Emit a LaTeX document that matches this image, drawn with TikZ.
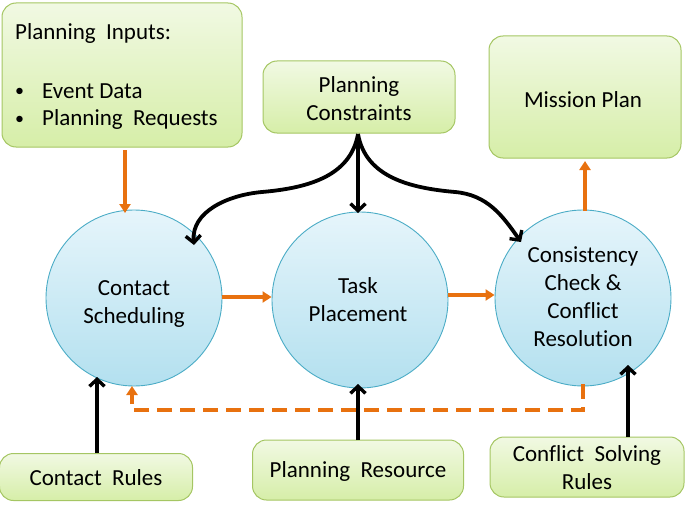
\documentclass[tikz,border=0pt]{standalone}
\usepackage{fontspec}
\setmainfont{Carlito}[Ligatures=NoCommon]
\usetikzlibrary{arrows.meta}
\definecolor{boxtop}{HTML}{F1F9E3}
\definecolor{boxbot}{HTML}{D6EEA8}
\definecolor{boxline}{HTML}{A5C663}
\definecolor{circtop}{HTML}{E6F5FB}
\definecolor{circbot}{HTML}{B3E0EF}
\definecolor{circline}{HTML}{4BACC6}
\definecolor{orng}{HTML}{E8710F}
\tikzset{
  gbox/.style={draw=boxline, line width=1pt, rounded corners=14pt, top color=boxtop, bottom color=boxbot, inner sep=0pt},
  bcirc/.style={circle, draw=circline, line width=0.9pt, top color=circtop, bottom color=circbot, minimum size=176pt, inner sep=0pt},
  txt/.style={font=\fontsize{23}{28}\selectfont, align=center, inner sep=0pt},
  oarr/.style={draw=orng, line width=3.8pt, -{Triangle[length=9pt,width=11pt]}},
  barr/.style={draw=black, line width=3.8pt, -{Straight Barb[length=7pt,width=15pt,line width=3.4pt]}},
}
\begin{document}
\begin{tikzpicture}[x=1pt,y=-1pt]
\useasboundingbox (0,0) rectangle (685,511);
% boxes
\node[gbox, minimum width=240pt, minimum height=144pt] (pin) at (122,75) {};
\node[txt, anchor=west] (pint) at (15,33) {Planning\ \ Inputs:};
\node[txt, anchor=west, font=\fontsize{18}{28}\selectfont] (b1) at (15,92) {\textbullet};
\node[txt, anchor=west, font=\fontsize{18}{28}\selectfont] (b2) at (15,120) {\textbullet};
\node[txt, anchor=west] (e1) at (42,91) {Event Data};
\node[txt, anchor=west] (e2) at (42,119) {Planning\ \ Requests};

\node[gbox, minimum width=192pt, minimum height=72pt] (pc) at (359,97) {};
\node[txt] (pct) at (359,99) {Planning\\Constraints};

\node[gbox, minimum width=192pt, minimum height=122pt] (mp) at (585,97) {};
\node[txt] (mpt) at (583,100) {Mission Plan};

\node[gbox, minimum width=193pt, minimum height=47pt] (cr) at (96,477) {};
\node[txt] (crt) at (96,478) {Contact\ \ Rules};

\node[gbox, minimum width=211pt, minimum height=60pt] (pr) at (358,470) {};
\node[txt] (prt) at (358,471) {Planning\ \ Resource};

\node[gbox, minimum width=194pt, minimum height=60pt] (cs) at (587,467) {};
\node[txt] (cst) at (587,468) {Conflict\ \ Solving\\Rules};

% circles
\node[bcirc] (c1) at (134,298) {};
\node[txt] (c1t) at (134,304) {Contact\\Scheduling};
\node[bcirc] (c2) at (360,300) {};
\node[txt] (c2t) at (358,300) {Task\\Placement};
\node[bcirc] (c3) at (583,298) {};
\node[txt] (c3t) at (583,297) {Consistency\\Check \&\\Conflict\\Resolution};

% coordinates
\coordinate (pinb) at (125,150);
\coordinate (c1top) at (125,213);
\coordinate (c3top) at (585,211);
\coordinate (mpb) at (585,161);
\coordinate (pcb) at (358,134);
\coordinate (c2top) at (358,213);
\coordinate (lmid) at (262,192);
\coordinate (rmid) at (455,192);
\coordinate (c1tip) at (194,245);
\coordinate (c3tip) at (521,242);
\coordinate (d1) at (583,384);
\coordinate (d2) at (583,410);
\coordinate (d3) at (132,410);
\coordinate (d4) at (132,386);
\coordinate (u1a) at (97,453);
\coordinate (u1b) at (97,377);
\coordinate (u2a) at (358,440);
\coordinate (u2b) at (358,384);
\coordinate (u3a) at (628,437);
\coordinate (u3b) at (628,365);

% orange arrows
\draw[oarr] (pinb) -- (c1top);
\draw[oarr] (c1.east |- 0,297) -- (c2.west |- 0,297);
\draw[oarr] (c2.east |- 0,295) -- (c3.west |- 0,295);
\draw[oarr] (c3top) -- (mpb);
\draw[draw=orng, line width=3.8pt, dash pattern=on 15pt off 8pt, -{Triangle[length=9pt,width=11pt]}] (d1) -- (d2) -- (d3) -- (d4);

% black arrows
\draw[barr] (pcb) -- (c2top);
\draw[barr] (pcb) to[out=-100,in=5] (lmid) to[out=185,in=95] (c1tip);
\draw[barr] (pcb) to[out=-80,in=175] (rmid) to[out=-5,in=125] (c3tip);
\draw[barr] (u1a) -- (u1b);
\draw[barr] (u2a) -- (u2b);
\draw[barr] (u3a) -- (u3b);
\end{tikzpicture}
\end{document}
